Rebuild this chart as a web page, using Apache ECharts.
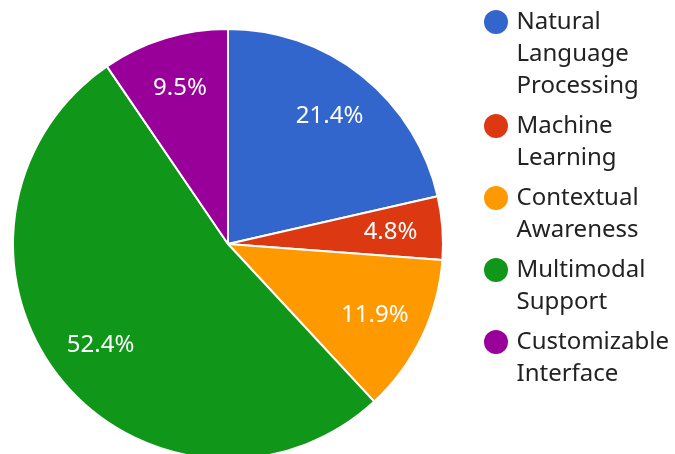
<!DOCTYPE html>
<html>
<head>
<meta charset="utf-8">
<script src="https://cdn.jsdelivr.net/npm/echarts@6/dist/echarts.min.js"></script>
<style>
  html, body { margin: 0; padding: 0; background: #ffffff; }
  #chart { width: 675px; height: 454px; }
</style>
</head>
<body>
<div id="chart"></div>
<script>
const categories = ['Natural Language Processing', 'Machine Learning', 'Contextual Awareness', 'Multimodal Support', 'Customizable Interface'];
const values = [9, 2, 5, 22, 4];
const colors = ['#3366cc', '#dc3912', '#ff9900', '#109618', '#990099'];

const FONT = '"Noto Sans", "Open Sans", sans-serif';
const LINE_H = 32;

const pieData = categories.map((name, i) => ({ name: name, value: values[i] }));

// Wrap each word onto its own line; blank lines above keep the icon level with the first line.
function legendText(name) {
  const words = name.split(' ');
  return '\n'.repeat(words.length - 1) + words.join('\n');
}

const chart = echarts.init(document.getElementById('chart'), null, { renderer: 'canvas' });
chart.setOption({
  animation: false,
  color: colors,
  legend: {
    orient: 'vertical',
    left: 484,
    top: -58,
    padding: 0,
    itemWidth: 31,
    itemHeight: 24,
    symbolKeepAspect: true,
    itemGap: 8 - LINE_H,
    icon: 'circle',
    selectedMode: false,
    itemStyle: { borderWidth: 0 },
    formatter: legendText,
    textStyle: { fontFamily: FONT, fontSize: 24, lineHeight: LINE_H, color: '#222222' },
    data: categories
  },
  series: [
    {
      type: 'pie',
      center: [228, 244],
      radius: [0, 215],
      startAngle: 90,
      clockwise: true,
      avoidLabelOverlap: false,
      silent: true,
      itemStyle: { borderColor: '#ffffff', borderWidth: 2 },
      label: { show: false },
      labelLine: { show: false },
      emphasis: { disabled: true },
      data: pieData
    },
    {
      type: 'pie',
      center: [228, 244],
      radius: [105, 215],
      startAngle: 90,
      clockwise: true,
      percentPrecision: 1,
      avoidLabelOverlap: false,
      silent: true,
      itemStyle: { color: 'rgba(0,0,0,0)', borderWidth: 0 },
      label: {
        show: true,
        position: 'inside',
        formatter: '{d}%',
        color: '#ffffff',
        fontFamily: FONT,
        fontSize: 24
      },
      labelLine: { show: false },
      emphasis: { disabled: true },
      data: pieData
    }
  ]
});
</script>
</body>
</html>
